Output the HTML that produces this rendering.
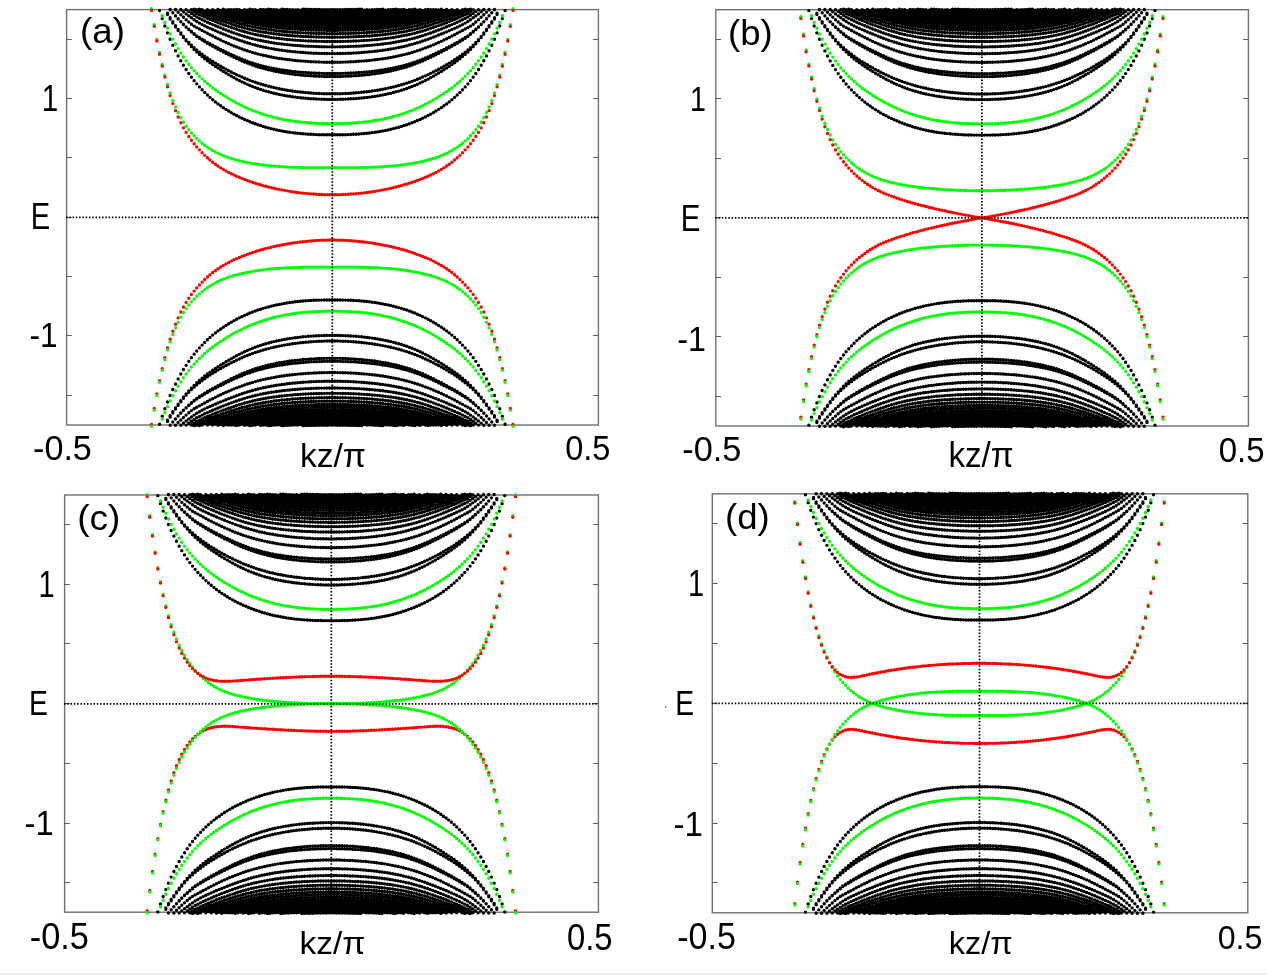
<!DOCTYPE html>
<html><head><meta charset="utf-8"><title>Band structure E vs kz</title><style>html,body{margin:0;padding:0;background:#fff}svg{display:block}</style></head><body>
<svg width="1267" height="975" viewBox="0 0 1267 975" style="display:block">
<defs>
<path id="bk" d="M0 -82.8h0M-2.7 -82.8h0M-5.3 -82.8h0M-8 -82.8h0M-10.6 -82.9h0M-13.3 -82.9h0M-16 -83h0M-18.6 -83.1h0M-21.3 -83.3h0M-23.9 -83.4h0M-26.6 -83.6h0M-29.3 -83.8h0M-31.9 -84.1h0M-34.6 -84.3h0M-37.2 -84.6h0M-39.9 -85h0M-42.6 -85.3h0M-45.2 -85.7h0M-47.9 -86.2h0M-50.5 -86.7h0M-53.2 -87.2h0M-55.9 -87.7h0M-58.5 -88.3h0M-61.2 -89h0M-63.8 -89.7h0M-66.5 -90.4h0M-69.2 -91.2h0M-71.8 -92.1h0M-74.5 -92.9h0M-77.1 -93.9h0M-79.8 -94.9h0M-82.5 -95.9h0M-85.1 -97.1h0M-87.8 -98.2h0M-90.4 -99.5h0M-93.1 -100.7h0M-95.8 -102.1h0M-98.4 -103.5h0M-101.1 -105h0M-103.7 -106.6h0M-106.4 -108.3h0M-109.1 -110h0M-111.7 -111.9h0M-114.4 -113.8h0M-117 -115.8h0M-119.7 -118h0M-122.4 -120.3h0M-125 -122.7h0M-127.7 -125.3h0M-130.3 -128h0M-133 -130.8h0M-135.7 -133.9h0M-138.3 -137.1h0M-141 -140.6h0M-143.6 -144.3h0M-146.3 -148.3h0M-149 -152.5h0M-151.6 -157h0M-154.3 -161.9h0M-156.9 -167h0M-159.6 -172.6h0M-162.3 -178.6h0M-164.9 -185h0M-167.6 -191.9h0M-170.2 -199.3h0M-172.9 -207.3h0M0 -118.3h0M-2.7 -118.3h0M-5.3 -118.3h0M-8 -118.4h0M-10.6 -118.5h0M-13.3 -118.6h0M-16 -118.7h0M-18.6 -118.9h0M-21.3 -119h0M-23.9 -119.2h0M-26.6 -119.5h0M-29.3 -119.7h0M-31.9 -120h0M-34.6 -120.3h0M-37.2 -120.6h0M-39.9 -121h0M-42.6 -121.4h0M-45.2 -121.8h0M-47.9 -122.3h0M-50.5 -122.8h0M-53.2 -123.3h0M-55.9 -123.9h0M-58.5 -124.5h0M-61.2 -125.2h0M-63.8 -125.9h0M-66.5 -126.6h0M-69.2 -127.4h0M-71.8 -128.3h0M-74.5 -129.2h0M-77.1 -130.2h0M-79.8 -131.2h0M-82.5 -132.3h0M-85.1 -133.4h0M-87.8 -134.7h0M-90.4 -135.9h0M-93.1 -137.3h0M-95.8 -138.6h0M-98.4 -140.1h0M-101.1 -141.6h0M-103.7 -143.1h0M-106.4 -144.7h0M-109.1 -146.3h0M-111.7 -148h0M-114.4 -149.7h0M-117 -151.4h0M-119.7 -153.2h0M-122.4 -155.1h0M-125 -157h0M-127.7 -159h0M-130.3 -161.2h0M-133 -163.4h0M-135.7 -165.8h0M-138.3 -168.4h0M-141 -171.2h0M-143.6 -174h0M-146.3 -177.1h0M-149 -180.3h0M-151.6 -183.7h0M-154.3 -187.3h0M-156.9 -191h0M-159.6 -194.9h0M-162.3 -198.9h0M-164.9 -203.4h0M0 -123.9h0M-2.7 -123.9h0M-5.3 -123.9h0M-8 -124h0M-10.6 -124.1h0M-13.3 -124.2h0M-16 -124.3h0M-18.6 -124.5h0M-21.3 -124.7h0M-23.9 -124.9h0M-26.6 -125.1h0M-29.3 -125.4h0M-31.9 -125.7h0M-34.6 -126h0M-37.2 -126.3h0M-39.9 -126.7h0M-42.6 -127.1h0M-45.2 -127.5h0M-47.9 -128h0M-50.5 -128.5h0M-53.2 -129h0M-55.9 -129.6h0M-58.5 -130.2h0M-61.2 -130.8h0M-63.8 -131.5h0M-66.5 -132.2h0M-69.2 -133h0M-71.8 -133.8h0M-74.5 -134.6h0M-77.1 -135.5h0M-79.8 -136.4h0M-82.5 -137.4h0M-85.1 -138.5h0M-87.8 -139.5h0M-90.4 -140.7h0M-93.1 -141.9h0M-95.8 -143.1h0M-98.4 -144.4h0M-101.1 -145.7h0M-103.7 -147.1h0M-106.4 -148.5h0M-109.1 -150h0M-111.7 -151.5h0M-114.4 -153.1h0M-117 -154.7h0M-119.7 -156.3h0M-122.4 -158h0M-125 -159.8h0M-127.7 -161.7h0M-130.3 -163.7h0M-133 -165.7h0M-135.7 -167.9h0M-138.3 -170.2h0M-141 -172.6h0M-143.6 -175.3h0M-146.3 -178.2h0M-149 -181.4h0M-151.6 -184.9h0M-154.3 -188.5h0M-156.9 -192.2h0M-159.6 -196.1h0M-162.3 -200.1h0M-164.9 -204.6h0M0 -141.3h0M-2.7 -141.3h0M-5.3 -141.3h0M-8 -141.3h0M-10.6 -141.4h0M-13.3 -141.5h0M-16 -141.6h0M-18.6 -141.8h0M-21.3 -141.9h0M-23.9 -142.1h0M-26.6 -142.3h0M-29.3 -142.5h0M-31.9 -142.8h0M-34.6 -143.1h0M-37.2 -143.3h0M-39.9 -143.7h0M-42.6 -144h0M-45.2 -144.4h0M-47.9 -144.8h0M-50.5 -145.3h0M-53.2 -145.7h0M-55.9 -146.2h0M-58.5 -146.8h0M-61.2 -147.4h0M-63.8 -148h0M-66.5 -148.7h0M-69.2 -149.4h0M-71.8 -150.1h0M-74.5 -150.9h0M-77.1 -151.8h0M-79.8 -152.7h0M-82.5 -153.7h0M-85.1 -154.7h0M-87.8 -155.7h0M-90.4 -156.8h0M-93.1 -158h0M-95.8 -159.2h0M-98.4 -160.5h0M-101.1 -161.8h0M-103.7 -163.1h0M-106.4 -164.4h0M-109.1 -165.8h0M-111.7 -167.2h0M-114.4 -168.6h0M-117 -170.1h0M-119.7 -171.5h0M-122.4 -173.1h0M-125 -174.6h0M-127.7 -176.2h0M-130.3 -177.9h0M-133 -179.6h0M-135.7 -181.4h0M-138.3 -183.5h0M-141 -185.8h0M-143.6 -188.2h0M-146.3 -190.7h0M-149 -193.3h0M-151.6 -196.1h0M-154.3 -199h0M-156.9 -202h0M-159.6 -205.1h0M-162.3 -208.4h0M0 -144.2h0M-2.7 -144.2h0M-5.3 -144.3h0M-8 -144.3h0M-10.6 -144.4h0M-13.3 -144.5h0M-16 -144.6h0M-18.6 -144.7h0M-21.3 -144.8h0M-23.9 -145h0M-26.6 -145.2h0M-29.3 -145.4h0M-31.9 -145.6h0M-34.6 -145.9h0M-37.2 -146.1h0M-39.9 -146.4h0M-42.6 -146.7h0M-45.2 -147.1h0M-47.9 -147.5h0M-50.5 -147.9h0M-53.2 -148.3h0M-55.9 -148.8h0M-58.5 -149.3h0M-61.2 -149.8h0M-63.8 -150.4h0M-66.5 -151h0M-69.2 -151.7h0M-71.8 -152.4h0M-74.5 -153.1h0M-77.1 -153.9h0M-79.8 -154.8h0M-82.5 -155.7h0M-85.1 -156.6h0M-87.8 -157.6h0M-90.4 -158.7h0M-93.1 -159.8h0M-95.8 -160.9h0M-98.4 -162.1h0M-101.1 -163.3h0M-103.7 -164.6h0M-106.4 -165.9h0M-109.1 -167.2h0M-111.7 -168.5h0M-114.4 -169.8h0M-117 -171.2h0M-119.7 -172.6h0M-122.4 -174.1h0M-125 -175.5h0M-127.7 -177.1h0M-130.3 -178.7h0M-133 -180.3h0M-135.7 -182h0M-138.3 -184.1h0M-141 -186.3h0M-143.6 -188.6h0M-146.3 -191h0M-149 -193.6h0M-151.6 -196.3h0M-154.3 -199.1h0M-156.9 -202.1h0M-159.6 -205.1h0M-162.3 -208.3h0M0 -155.5h0M-2.7 -155.5h0M-5.3 -155.6h0M-8 -155.6h0M-10.6 -155.7h0M-13.3 -155.8h0M-16 -155.9h0M-18.6 -156h0M-21.3 -156.1h0M-23.9 -156.3h0M-26.6 -156.5h0M-29.3 -156.7h0M-31.9 -156.9h0M-34.6 -157.1h0M-37.2 -157.4h0M-39.9 -157.7h0M-42.6 -158h0M-45.2 -158.3h0M-47.9 -158.7h0M-50.5 -159h0M-53.2 -159.4h0M-55.9 -159.9h0M-58.5 -160.4h0M-61.2 -160.9h0M-63.8 -161.4h0M-66.5 -162h0M-69.2 -162.6h0M-71.8 -163.2h0M-74.5 -163.9h0M-77.1 -164.6h0M-79.8 -165.4h0M-82.5 -166.2h0M-85.1 -167h0M-87.8 -167.9h0M-90.4 -168.9h0M-93.1 -169.9h0M-95.8 -170.9h0M-98.4 -171.9h0M-101.1 -173h0M-103.7 -174.2h0M-106.4 -175.3h0M-109.1 -176.5h0M-111.7 -177.8h0M-114.4 -179.1h0M-117 -180.4h0M-119.7 -181.8h0M-122.4 -183.1h0M-125 -184.6h0M-127.7 -186h0M-130.3 -187.4h0M-133 -188.9h0M-135.7 -190.3h0M-138.3 -191.8h0M-141 -193.7h0M-143.6 -195.9h0M-146.3 -198.2h0M-149 -200.6h0M-151.6 -203.1h0M-154.3 -205.6h0M-156.9 -208.4h0M0 -164.2h0M-2.7 -164.2h0M-5.3 -164.3h0M-8 -164.3h0M-10.6 -164.4h0M-13.3 -164.4h0M-16 -164.5h0M-18.6 -164.6h0M-21.3 -164.8h0M-23.9 -164.9h0M-26.6 -165.1h0M-29.3 -165.3h0M-31.9 -165.5h0M-34.6 -165.7h0M-37.2 -166h0M-39.9 -166.2h0M-42.6 -166.5h0M-45.2 -166.8h0M-47.9 -167.2h0M-50.5 -167.5h0M-53.2 -167.9h0M-55.9 -168.3h0M-58.5 -168.8h0M-61.2 -169.2h0M-63.8 -169.7h0M-66.5 -170.3h0M-69.2 -170.8h0M-71.8 -171.4h0M-74.5 -172.1h0M-77.1 -172.8h0M-79.8 -173.5h0M-82.5 -174.3h0M-85.1 -175.1h0M-87.8 -175.9h0M-90.4 -176.8h0M-93.1 -177.7h0M-95.8 -178.7h0M-98.4 -179.7h0M-101.1 -180.7h0M-103.7 -181.7h0M-106.4 -182.8h0M-109.1 -183.9h0M-111.7 -184.9h0M-114.4 -186h0M-117 -187.2h0M-119.7 -188.3h0M-122.4 -189.5h0M-125 -190.7h0M-127.7 -192h0M-130.3 -193.3h0M-133 -194.8h0M-135.7 -196.4h0M-138.3 -198.2h0M-141 -200.1h0M-143.6 -202h0M-146.3 -204h0M-149 -206.2h0M-151.6 -208.4h0M0 -171h0M-2.7 -171h0M-5.3 -171h0M-8 -171.1h0M-10.6 -171.1h0M-13.3 -171.2h0M-16 -171.3h0M-18.6 -171.4h0M-21.3 -171.5h0M-23.9 -171.6h0M-26.6 -171.7h0M-29.3 -171.9h0M-31.9 -172.1h0M-34.6 -172.3h0M-37.2 -172.5h0M-39.9 -172.7h0M-42.6 -173h0M-45.2 -173.2h0M-47.9 -173.5h0M-50.5 -173.8h0M-53.2 -174.2h0M-55.9 -174.5h0M-58.5 -174.9h0M-61.2 -175.3h0M-63.8 -175.8h0M-66.5 -176.3h0M-69.2 -176.8h0M-71.8 -177.3h0M-74.5 -177.9h0M-77.1 -178.5h0M-79.8 -179.2h0M-82.5 -179.9h0M-85.1 -180.6h0M-87.8 -181.4h0M-90.4 -182.2h0M-93.1 -183.1h0M-95.8 -184h0M-98.4 -184.9h0M-101.1 -185.9h0M-103.7 -186.9h0M-106.4 -187.9h0M-109.1 -188.9h0M-111.7 -190h0M-114.4 -191.1h0M-117 -192.2h0M-119.7 -193.3h0M-122.4 -194.5h0M-125 -195.7h0M-127.7 -196.9h0M-130.3 -198.2h0M-133 -199.5h0M-135.7 -200.9h0M-138.3 -202.6h0M-141 -204.4h0M-143.6 -206.3h0M-146.3 -208.2h0M0 -176.4h0M-2.7 -176.4h0M-5.3 -176.4h0M-8 -176.4h0M-10.6 -176.5h0M-13.3 -176.5h0M-16 -176.6h0M-18.6 -176.7h0M-21.3 -176.8h0M-23.9 -176.9h0M-26.6 -177h0M-29.3 -177.2h0M-31.9 -177.4h0M-34.6 -177.5h0M-37.2 -177.7h0M-39.9 -178h0M-42.6 -178.2h0M-45.2 -178.4h0M-47.9 -178.7h0M-50.5 -179h0M-53.2 -179.3h0M-55.9 -179.7h0M-58.5 -180h0M-61.2 -180.4h0M-63.8 -180.8h0M-66.5 -181.3h0M-69.2 -181.8h0M-71.8 -182.3h0M-74.5 -182.8h0M-77.1 -183.4h0M-79.8 -184h0M-82.5 -184.7h0M-85.1 -185.4h0M-87.8 -186.1h0M-90.4 -186.9h0M-93.1 -187.7h0M-95.8 -188.6h0M-98.4 -189.5h0M-101.1 -190.4h0M-103.7 -191.3h0M-106.4 -192.3h0M-109.1 -193.2h0M-111.7 -194.2h0M-114.4 -195.2h0M-117 -196.3h0M-119.7 -197.4h0M-122.4 -198.5h0M-125 -199.6h0M-127.7 -200.8h0M-130.3 -202h0M-133 -203.2h0M-135.7 -204.5h0M-138.3 -206.1h0M-141 -207.9h0M0 -180.6h0M-2.7 -180.6h0M-5.3 -180.7h0M-8 -180.7h0M-10.6 -180.7h0M-13.3 -180.8h0M-16 -180.9h0M-18.6 -181h0M-21.3 -181.1h0M-23.9 -181.2h0M-26.6 -181.3h0M-29.3 -181.4h0M-31.9 -181.6h0M-34.6 -181.8h0M-37.2 -181.9h0M-39.9 -182.1h0M-42.6 -182.4h0M-45.2 -182.6h0M-47.9 -182.9h0M-50.5 -183.1h0M-53.2 -183.4h0M-55.9 -183.8h0M-58.5 -184.1h0M-61.2 -184.5h0M-63.8 -184.9h0M-66.5 -185.3h0M-69.2 -185.7h0M-71.8 -186.2h0M-74.5 -186.7h0M-77.1 -187.3h0M-79.8 -187.9h0M-82.5 -188.5h0M-85.1 -189.2h0M-87.8 -189.9h0M-90.4 -190.6h0M-93.1 -191.4h0M-95.8 -192.2h0M-98.4 -193h0M-101.1 -193.9h0M-103.7 -194.8h0M-106.4 -195.7h0M-109.1 -196.6h0M-111.7 -197.5h0M-114.4 -198.5h0M-117 -199.5h0M-119.7 -200.5h0M-122.4 -201.6h0M-125 -202.6h0M-127.7 -203.7h0M-130.3 -204.9h0M-133 -206.1h0M-135.7 -207.3h0M-138.3 -208.8h0M0 -184.2h0M-2.7 -184.2h0M-5.3 -184.2h0M-8 -184.3h0M-10.6 -184.3h0M-13.3 -184.4h0M-16 -184.4h0M-18.6 -184.5h0M-21.3 -184.6h0M-23.9 -184.7h0M-26.6 -184.8h0M-29.3 -185h0M-31.9 -185.1h0M-34.6 -185.3h0M-37.2 -185.5h0M-39.9 -185.6h0M-42.6 -185.9h0M-45.2 -186.1h0M-47.9 -186.3h0M-50.5 -186.6h0M-53.2 -186.9h0M-55.9 -187.2h0M-58.5 -187.5h0M-61.2 -187.9h0M-63.8 -188.3h0M-66.5 -188.7h0M-69.2 -189.1h0M-71.8 -189.6h0M-74.5 -190.1h0M-77.1 -190.6h0M-79.8 -191.2h0M-82.5 -191.8h0M-85.1 -192.4h0M-87.8 -193.1h0M-90.4 -193.8h0M-93.1 -194.5h0M-95.8 -195.3h0M-98.4 -196.1h0M-101.1 -196.9h0M-103.7 -197.8h0M-106.4 -198.6h0M-109.1 -199.5h0M-111.7 -200.4h0M-114.4 -201.3h0M-117 -202.3h0M-119.7 -203.3h0M-122.4 -204.3h0M-125 -205.3h0M-127.7 -206.4h0M-130.3 -207.5h0M-133 -208.7h0M0 -187.4h0M-2.7 -187.4h0M-5.3 -187.4h0M-8 -187.5h0M-10.6 -187.5h0M-13.3 -187.6h0M-16 -187.6h0M-18.6 -187.7h0M-21.3 -187.8h0M-23.9 -187.9h0M-26.6 -188h0M-29.3 -188.2h0M-31.9 -188.3h0M-34.6 -188.5h0M-37.2 -188.6h0M-39.9 -188.8h0M-42.6 -189h0M-45.2 -189.2h0M-47.9 -189.5h0M-50.5 -189.7h0M-53.2 -190h0M-55.9 -190.3h0M-58.5 -190.6h0M-61.2 -191h0M-63.8 -191.3h0M-66.5 -191.7h0M-69.2 -192.2h0M-71.8 -192.6h0M-74.5 -193.1h0M-77.1 -193.6h0M-79.8 -194.2h0M-82.5 -194.8h0M-85.1 -195.4h0M-87.8 -196h0M-90.4 -196.7h0M-93.1 -197.4h0M-95.8 -198.2h0M-98.4 -199h0M-101.1 -199.8h0M-103.7 -200.6h0M-106.4 -201.4h0M-109.1 -202.3h0M-111.7 -203.2h0M-114.4 -204.1h0M-117 -205h0M-119.7 -206h0M-122.4 -206.9h0M-125 -208h0M0 -189.9h0M-2.7 -189.9h0M-5.3 -189.9h0M-8 -190h0M-10.6 -190h0M-13.3 -190.1h0M-16 -190.1h0M-18.6 -190.2h0M-21.3 -190.3h0M-23.9 -190.4h0M-26.6 -190.5h0M-29.3 -190.6h0M-31.9 -190.8h0M-34.6 -190.9h0M-37.2 -191.1h0M-39.9 -191.3h0M-42.6 -191.5h0M-45.2 -191.7h0M-47.9 -191.9h0M-50.5 -192.2h0M-53.2 -192.5h0M-55.9 -192.7h0M-58.5 -193.1h0M-61.2 -193.4h0M-63.8 -193.7h0M-66.5 -194.1h0M-69.2 -194.5h0M-71.8 -195h0M-74.5 -195.5h0M-77.1 -196h0M-79.8 -196.5h0M-82.5 -197.1h0M-85.1 -197.7h0M-87.8 -198.3h0M-90.4 -199h0M-93.1 -199.7h0M-95.8 -200.4h0M-98.4 -201.2h0M-101.1 -202h0M-103.7 -202.8h0M-106.4 -203.6h0M-109.1 -204.4h0M-111.7 -205.3h0M-114.4 -206.2h0M-117 -207.1h0M-119.7 -208h0M0 -192.5h0M-2.7 -192.5h0M-5.3 -192.6h0M-8 -192.6h0M-10.6 -192.6h0M-13.3 -192.7h0M-16 -192.7h0M-18.6 -192.8h0M-21.3 -192.9h0M-23.9 -193h0M-26.6 -193.1h0M-29.3 -193.2h0M-31.9 -193.4h0M-34.6 -193.5h0M-37.2 -193.7h0M-39.9 -193.9h0M-42.6 -194.1h0M-45.2 -194.3h0M-47.9 -194.5h0M-50.5 -194.7h0M-53.2 -195h0M-55.9 -195.3h0M-58.5 -195.6h0M-61.2 -195.9h0M-63.8 -196.3h0M-66.5 -196.6h0M-69.2 -197h0M-71.8 -197.5h0M-74.5 -197.9h0M-77.1 -198.4h0M-79.8 -198.9h0M-82.5 -199.5h0M-85.1 -200.1h0M-87.8 -200.7h0M-90.4 -201.4h0M-93.1 -202h0M-95.8 -202.8h0M-98.4 -203.5h0M-101.1 -204.3h0M-103.7 -205.1h0M-106.4 -205.9h0M-109.1 -206.7h0M-111.7 -207.5h0M-114.4 -208.4h0M0 -194.9h0M-2.7 -194.9h0M-5.3 -194.9h0M-8 -195h0M-10.6 -195h0M-13.3 -195.1h0M-16 -195.1h0M-18.6 -195.2h0M-21.3 -195.3h0M-23.9 -195.4h0M-26.6 -195.5h0M-29.3 -195.6h0M-31.9 -195.7h0M-34.6 -195.9h0M-37.2 -196h0M-39.9 -196.2h0M-42.6 -196.4h0M-45.2 -196.6h0M-47.9 -196.8h0M-50.5 -197.1h0M-53.2 -197.3h0M-55.9 -197.6h0M-58.5 -197.9h0M-61.2 -198.2h0M-63.8 -198.5h0M-66.5 -198.9h0M-69.2 -199.3h0M-71.8 -199.7h0M-74.5 -200.2h0M-77.1 -200.6h0M-79.8 -201.2h0M-82.5 -201.7h0M-85.1 -202.3h0M-87.8 -202.9h0M-90.4 -203.5h0M-93.1 -204.2h0M-95.8 -204.9h0M-98.4 -205.6h0M-101.1 -206.3h0M-103.7 -207.1h0M-106.4 -207.9h0M-109.1 -208.7h0M0 -197.1h0M-2.7 -197.1h0M-5.3 -197.1h0M-8 -197.2h0M-10.6 -197.2h0M-13.3 -197.2h0M-16 -197.3h0M-18.6 -197.4h0M-21.3 -197.5h0M-23.9 -197.5h0M-26.6 -197.7h0M-29.3 -197.8h0M-31.9 -197.9h0M-34.6 -198h0M-37.2 -198.2h0M-39.9 -198.4h0M-42.6 -198.5h0M-45.2 -198.7h0M-47.9 -199h0M-50.5 -199.2h0M-53.2 -199.4h0M-55.9 -199.7h0M-58.5 -200h0M-61.2 -200.3h0M-63.8 -200.6h0M-66.5 -201h0M-69.2 -201.4h0M-71.8 -201.8h0M-74.5 -202.2h0M-77.1 -202.7h0M-79.8 -203.2h0M-82.5 -203.7h0M-85.1 -204.3h0M-87.8 -204.9h0M-90.4 -205.5h0M-93.1 -206.1h0M-95.8 -206.8h0M-98.4 -207.5h0M-101.1 -208.2h0M0 -199.1h0M-2.7 -199.1h0M-5.3 -199.1h0M-8 -199.2h0M-10.6 -199.2h0M-13.3 -199.3h0M-16 -199.3h0M-18.6 -199.4h0M-21.3 -199.5h0M-23.9 -199.5h0M-26.6 -199.7h0M-29.3 -199.8h0M-31.9 -199.9h0M-34.6 -200h0M-37.2 -200.2h0M-39.9 -200.3h0M-42.6 -200.5h0M-45.2 -200.7h0M-47.9 -200.9h0M-50.5 -201.2h0M-53.2 -201.4h0M-55.9 -201.7h0M-58.5 -201.9h0M-61.2 -202.2h0M-63.8 -202.6h0M-66.5 -202.9h0M-69.2 -203.3h0M-71.8 -203.7h0M-74.5 -204.1h0M-77.1 -204.6h0M-79.8 -205h0M-82.5 -205.6h0M-85.1 -206.1h0M-87.8 -206.7h0M-90.4 -207.3h0M-93.1 -207.9h0M-95.8 -208.6h0M0 -201h0M-2.7 -201h0M-5.3 -201h0M-8 -201h0M-10.6 -201.1h0M-13.3 -201.1h0M-16 -201.2h0M-18.6 -201.2h0M-21.3 -201.3h0M-23.9 -201.4h0M-26.6 -201.5h0M-29.3 -201.6h0M-31.9 -201.7h0M-34.6 -201.9h0M-37.2 -202h0M-39.9 -202.2h0M-42.6 -202.3h0M-45.2 -202.5h0M-47.9 -202.7h0M-50.5 -203h0M-53.2 -203.2h0M-55.9 -203.4h0M-58.5 -203.7h0M-61.2 -204h0M-63.8 -204.3h0M-66.5 -204.7h0M-69.2 -205h0M-71.8 -205.4h0M-74.5 -205.8h0M-77.1 -206.3h0M-79.8 -206.7h0M-82.5 -207.2h0M-85.1 -207.8h0M-87.8 -208.3h0M0 -202.7h0M-2.7 -202.7h0M-5.3 -202.7h0M-8 -202.7h0M-10.6 -202.8h0M-13.3 -202.8h0M-16 -202.9h0M-18.6 -202.9h0M-21.3 -203h0M-23.9 -203.1h0M-26.6 -203.2h0M-29.3 -203.3h0M-31.9 -203.4h0M-34.6 -203.5h0M-37.2 -203.7h0M-39.9 -203.8h0M-42.6 -204h0M-45.2 -204.2h0M-47.9 -204.4h0M-50.5 -204.6h0M-53.2 -204.8h0M-55.9 -205.1h0M-58.5 -205.4h0M-61.2 -205.6h0M-63.8 -206h0M-66.5 -206.3h0M-69.2 -206.6h0M-71.8 -207h0M-74.5 -207.4h0M-77.1 -207.9h0M-79.8 -208.3h0M-82.5 -208.8h0M0 -204.3h0M-2.7 -204.3h0M-5.3 -204.3h0M-8 -204.3h0M-10.6 -204.3h0M-13.3 -204.4h0M-16 -204.4h0M-18.6 -204.5h0M-21.3 -204.6h0M-23.9 -204.6h0M-26.6 -204.7h0M-29.3 -204.8h0M-31.9 -205h0M-34.6 -205.1h0M-37.2 -205.2h0M-39.9 -205.4h0M-42.6 -205.6h0M-45.2 -205.7h0M-47.9 -205.9h0M-50.5 -206.1h0M-53.2 -206.4h0M-55.9 -206.6h0M-58.5 -206.9h0M-61.2 -207.1h0M-63.8 -207.4h0M-66.5 -207.8h0M-69.2 -208.1h0M-71.8 -208.5h0M0 -205.7h0M-2.7 -205.7h0M-5.3 -205.7h0M-8 -205.7h0M-10.6 -205.8h0M-13.3 -205.8h0M-16 -205.9h0M-18.6 -205.9h0M-21.3 -206h0M-23.9 -206.1h0M-26.6 -206.2h0M-29.3 -206.3h0M-31.9 -206.4h0M-34.6 -206.5h0M-37.2 -206.7h0M-39.9 -206.8h0M-42.6 -207h0M-45.2 -207.1h0M-47.9 -207.3h0M-50.5 -207.5h0M-53.2 -207.8h0M-55.9 -208h0M-58.5 -208.2h0M-61.2 -208.5h0M-63.8 -208.8h0M0 -207h0M-2.7 -207h0M-5.3 -207h0M-8 -207.1h0M-10.6 -207.1h0M-13.3 -207.1h0M-16 -207.2h0M-18.6 -207.2h0M-21.3 -207.3h0M-23.9 -207.4h0M-26.6 -207.5h0M-29.3 -207.6h0M-31.9 -207.7h0M-34.6 -207.8h0M-37.2 -208h0M-39.9 -208.1h0M-42.6 -208.3h0M-45.2 -208.4h0M-47.9 -208.6h0M-50.5 -208.8h0M0 -208.2h0M-2.7 -208.2h0M-5.3 -208.3h0M-8 -208.3h0M-10.6 -208.3h0M-13.3 -208.4h0M-16 -208.4h0M-18.6 -208.5h0M-21.3 -208.5h0M-23.9 -208.6h0M-26.6 -208.7h0M-29.3 -208.8h0M-162.3 -208.2h0M-156.9 -208.2h0M-151.6 -208.2h0M-146.3 -208.2h0M-141 -208.2h0M-135.7 -208.2h0M-130.3 -208.2h0M-125 -208.2h0M-119.7 -208.2h0M-114.4 -208.2h0M-109.1 -208.2h0M-103.7 -208.2h0M-98.4 -208.2h0M-93.1 -208.2h0M-87.8 -208.2h0M-82.5 -208.2h0M-77.1 -208.2h0M-71.8 -208.2h0M-66.5 -208.2h0M-61.2 -208.2h0M-55.9 -208.2h0M-50.5 -208.2h0M-45.2 -208.2h0M-39.9 -208.2h0M-34.6 -208.2h0M-29.3 -208.2h0M-23.9 -208.2h0M-18.6 -208.2h0M-13.3 -208.2h0M-8 -208.2h0M-2.7 -208.2h0"/>
<path id="g2" d="M0 -94h0M-2.7 -94h0M-5.3 -94.1h0M-8 -94.1h0M-10.6 -94.2h0M-13.3 -94.3h0M-16 -94.4h0M-18.6 -94.5h0M-21.3 -94.7h0M-23.9 -94.9h0M-26.6 -95.1h0M-29.3 -95.3h0M-31.9 -95.6h0M-34.6 -95.9h0M-37.2 -96.3h0M-39.9 -96.6h0M-42.6 -97.1h0M-45.2 -97.5h0M-47.9 -98h0M-50.5 -98.5h0M-53.2 -99.1h0M-55.9 -99.7h0M-58.5 -100.4h0M-61.2 -101.1h0M-63.8 -101.8h0M-66.5 -102.6h0M-69.2 -103.5h0M-71.8 -104.3h0M-74.5 -105.3h0M-77.1 -106.3h0M-79.8 -107.3h0M-82.5 -108.4h0M-85.1 -109.6h0M-87.8 -110.8h0M-90.4 -112.1h0M-93.1 -113.4h0M-95.8 -114.8h0M-98.4 -116.2h0M-101.1 -117.7h0M-103.7 -119.3h0M-106.4 -120.9h0M-109.1 -122.6h0M-111.7 -124.3h0M-114.4 -126.1h0M-117 -128h0M-119.7 -129.9h0M-122.4 -132h0M-125 -134.2h0M-127.7 -136.5h0M-130.3 -138.9h0M-133 -141.4h0M-135.7 -144.2h0M-138.3 -147.1h0M-141 -150.1h0M-143.6 -153.5h0M-146.3 -157h0M-149 -160.8h0M-151.6 -164.8h0M-154.3 -169.2h0M-156.9 -173.8h0M-159.6 -178.7h0M-162.3 -184h0M-164.9 -189.7h0M-167.6 -195.7h0M-170.2 -202.1h0"/>
<path id="ra" d="M0 -22.7h0M-2.7 -22.7h0M-5.3 -22.8h0M-8 -22.8h0M-10.6 -22.9h0M-13.3 -23h0M-16 -23.2h0M-18.6 -23.4h0M-21.3 -23.6h0M-23.9 -23.8h0M-26.6 -24.1h0M-29.3 -24.3h0M-31.9 -24.6h0M-34.6 -25h0M-37.2 -25.3h0M-39.9 -25.7h0M-42.6 -26.1h0M-45.2 -26.6h0M-47.9 -27.1h0M-50.5 -27.6h0M-53.2 -28.1h0M-55.9 -28.6h0M-58.5 -29.2h0M-61.2 -29.9h0M-63.8 -30.5h0M-66.5 -31.2h0M-69.2 -31.9h0M-71.8 -32.7h0M-74.5 -33.5h0M-77.1 -34.3h0M-79.8 -35.2h0M-82.5 -36.1h0M-85.1 -37.1h0M-87.8 -38.1h0M-90.4 -39.1h0M-93.1 -40.2h0M-95.8 -41.3h0M-98.4 -42.5h0M-101.1 -43.8h0M-103.7 -45.1h0M-106.4 -46.6h0M-109.1 -48.1h0M-111.7 -49.7h0M-114.4 -51.5h0M-117 -53.3h0M-119.7 -55.3h0M-122.4 -57.5h0M-125 -59.8h0M-127.7 -62.2h0M-130.3 -64.9h0M-133 -67.7h0M-135.7 -70.7h0M-138.3 -73.9h0M-141 -77.3h0M-143.6 -81.1h0M-146.3 -85.2h0M-149 -89.8h0M-151.6 -94.9h0M-154.3 -100.7h0M-156.9 -107h0M-159.6 -114.1h0M-162.3 -122.1h0M-164.9 -130.9h0M-167.6 -140.7h0M-170.2 -151.6h0M-172.9 -163.6h0M-175.6 -176.9h0M-178.2 -191.5h0M-180.9 -207.5h0"/>
<path id="ga" d="M0 -49.9h0M-2.7 -49.9h0M-5.3 -49.9h0M-8 -49.9h0M-10.6 -49.9h0M-13.3 -49.9h0M-16 -49.9h0M-18.6 -49.9h0M-21.3 -49.9h0M-23.9 -49.9h0M-26.6 -49.9h0M-29.3 -50h0M-31.9 -50h0M-34.6 -50.1h0M-37.2 -50.2h0M-39.9 -50.3h0M-42.6 -50.4h0M-45.2 -50.5h0M-47.9 -50.6h0M-50.5 -50.8h0M-53.2 -51h0M-55.9 -51.2h0M-58.5 -51.4h0M-61.2 -51.6h0M-63.8 -51.9h0M-66.5 -52.2h0M-69.2 -52.5h0M-71.8 -52.9h0M-74.5 -53.3h0M-77.1 -53.7h0M-79.8 -54.1h0M-82.5 -54.6h0M-85.1 -55.1h0M-87.8 -55.7h0M-90.4 -56.3h0M-93.1 -56.9h0M-95.8 -57.6h0M-98.4 -58.3h0M-101.1 -59.1h0M-103.7 -59.9h0M-106.4 -60.9h0M-109.1 -61.9h0M-111.7 -63h0M-114.4 -64.2h0M-117 -65.6h0M-119.7 -67.1h0M-122.4 -68.7h0M-125 -70.5h0M-127.7 -72.4h0M-130.3 -74.4h0M-133 -76.7h0M-135.7 -79.1h0M-138.3 -81.8h0M-141 -84.6h0M-143.6 -87.8h0M-146.3 -91.4h0M-149 -95.4h0M-151.6 -100h0M-154.3 -105.2h0M-156.9 -110.8h0M-159.6 -117.3h0M-162.3 -124.7h0M-164.9 -133h0M-167.6 -142.6h0M-170.2 -153.3h0M-172.9 -165.3h0M-175.6 -178.5h0M-178.2 -193.2h0M-180.9 -209.3h0"/>
<g id="ua"><use href="#bk" stroke="#000"/><use href="#g2" stroke="#0f0"/><use href="#ga" stroke="#0f0"/><use href="#ra" stroke="#f00"/></g>
<g id="la"><use href="#bk" stroke="#000"/><use href="#g2" stroke="#0f0"/><use href="#ra" stroke="#f00"/><use href="#ga" stroke="#0f0"/></g>
<path id="rb" d="M0 0h0M-2.7 -.4h0M-5.3 -.8h0M-8 -1.3h0M-10.6 -1.8h0M-13.3 -2.3h0M-16 -2.8h0M-18.6 -3.3h0M-21.3 -3.8h0M-23.9 -4.3h0M-26.6 -4.8h0M-29.3 -5.4h0M-31.9 -5.9h0M-34.6 -6.5h0M-37.2 -7.1h0M-39.9 -7.6h0M-42.6 -8.2h0M-45.2 -8.8h0M-47.9 -9.5h0M-50.5 -10.1h0M-53.2 -10.7h0M-55.9 -11.4h0M-58.5 -12.1h0M-61.2 -12.7h0M-63.8 -13.5h0M-66.5 -14.2h0M-69.2 -14.9h0M-71.8 -15.7h0M-74.5 -16.5h0M-77.1 -17.3h0M-79.8 -18.2h0M-82.5 -19h0M-85.1 -19.9h0M-87.8 -20.9h0M-90.4 -21.8h0M-93.1 -22.8h0M-95.8 -23.8h0M-98.4 -24.9h0M-101.1 -26.1h0M-103.7 -27.4h0M-106.4 -28.8h0M-109.1 -30.3h0M-111.7 -31.9h0M-114.4 -33.6h0M-117 -35.5h0M-119.7 -37.5h0M-122.4 -39.6h0M-125 -41.9h0M-127.7 -44.3h0M-130.3 -47h0M-133 -49.8h0M-135.7 -52.9h0M-138.3 -56.2h0M-141 -59.8h0M-143.6 -63.7h0M-146.3 -68h0M-149 -72.9h0M-151.6 -78.3h0M-154.3 -84.4h0M-156.9 -91.2h0M-159.6 -98.8h0M-162.3 -107.3h0M-164.9 -116.7h0M-167.6 -127.2h0M-170.2 -138.9h0M-172.9 -151.9h0M-175.6 -166.2h0M-178.2 -182h0M-180.9 -199.4h0"/>
<path id="gb" d="M0 -27.2h0M-2.7 -27.2h0M-5.3 -27.2h0M-8 -27.2h0M-10.6 -27.3h0M-13.3 -27.3h0M-16 -27.4h0M-18.6 -27.5h0M-21.3 -27.5h0M-23.9 -27.6h0M-26.6 -27.8h0M-29.3 -27.9h0M-31.9 -28h0M-34.6 -28.2h0M-37.2 -28.3h0M-39.9 -28.5h0M-42.6 -28.7h0M-45.2 -28.9h0M-47.9 -29.1h0M-50.5 -29.3h0M-53.2 -29.6h0M-55.9 -29.8h0M-58.5 -30.1h0M-61.2 -30.4h0M-63.8 -30.7h0M-66.5 -31.1h0M-69.2 -31.5h0M-71.8 -31.9h0M-74.5 -32.3h0M-77.1 -32.7h0M-79.8 -33.2h0M-82.5 -33.7h0M-85.1 -34.3h0M-87.8 -34.9h0M-90.4 -35.5h0M-93.1 -36.2h0M-95.8 -36.9h0M-98.4 -37.7h0M-101.1 -38.5h0M-103.7 -39.4h0M-106.4 -40.5h0M-109.1 -41.6h0M-111.7 -42.8h0M-114.4 -44.1h0M-117 -45.6h0M-119.7 -47.1h0M-122.4 -48.9h0M-125 -50.8h0M-127.7 -52.9h0M-130.3 -55.1h0M-133 -57.6h0M-135.7 -60.2h0M-138.3 -63.1h0M-141 -66.2h0M-143.6 -69.6h0M-146.3 -73.5h0M-149 -77.9h0M-151.6 -82.9h0M-154.3 -88.5h0M-156.9 -94.7h0M-159.6 -101.7h0M-162.3 -109.7h0M-164.9 -118.8h0M-167.6 -129.2h0M-170.2 -140.7h0M-172.9 -153.6h0M-175.6 -167.9h0M-178.2 -183.7h0M-180.9 -201.1h0"/>
<g id="ub"><use href="#bk" stroke="#000"/><use href="#g2" stroke="#0f0"/><use href="#gb" stroke="#0f0"/><use href="#rb" stroke="#f00"/></g>
<g id="lb"><use href="#bk" stroke="#000"/><use href="#g2" stroke="#0f0"/><use href="#rb" stroke="#f00"/><use href="#gb" stroke="#0f0"/></g>
<path id="rc" d="M0 -27.5h0M-2.7 -27.5h0M-5.3 -27.4h0M-8 -27.4h0M-10.6 -27.4h0M-13.3 -27.3h0M-16 -27.3h0M-18.6 -27.2h0M-21.3 -27.1h0M-23.9 -27.1h0M-26.6 -27h0M-29.3 -26.9h0M-31.9 -26.8h0M-34.6 -26.7h0M-37.2 -26.6h0M-39.9 -26.4h0M-42.6 -26.3h0M-45.2 -26.2h0M-47.9 -26h0M-50.5 -25.9h0M-53.2 -25.7h0M-55.9 -25.6h0M-58.5 -25.4h0M-61.2 -25.3h0M-63.8 -25.1h0M-66.5 -24.9h0M-69.2 -24.7h0M-71.8 -24.5h0M-74.5 -24.4h0M-77.1 -24.2h0M-79.8 -24h0M-82.5 -23.8h0M-85.1 -23.6h0M-87.8 -23.4h0M-90.4 -23.2h0M-93.1 -23h0M-95.8 -22.8h0M-98.4 -22.6h0M-101.1 -22.5h0M-103.7 -22.4h0M-106.4 -22.4h0M-109.1 -22.4h0M-111.7 -22.6h0M-114.4 -22.9h0M-117 -23.3h0M-119.7 -23.9h0M-122.4 -24.6h0M-125 -25.6h0M-127.7 -26.9h0M-130.3 -28.4h0M-133 -30.3h0M-135.7 -32.5h0M-138.3 -35h0M-141 -38h0M-143.6 -41.5h0M-146.3 -45.5h0M-149 -50.2h0M-151.6 -55.5h0M-154.3 -61.7h0M-156.9 -68.7h0M-159.6 -76.8h0M-162.3 -85.8h0M-164.9 -96h0M-167.6 -107.5h0M-170.2 -120.2h0M-172.9 -134.3h0M-175.6 -149.9h0M-178.2 -167h0M-180.9 -185.8h0M-183.5 -206.3h0"/>
<path id="gc" d="M0 0h0M-2.7 0h0M-5.3 0h0M-8 0h0M-10.6 0h0M-13.3 0h0M-16 -.1h0M-18.6 -.2h0M-21.3 -.2h0M-23.9 -.3h0M-26.6 -.4h0M-29.3 -.5h0M-31.9 -.7h0M-34.6 -.8h0M-37.2 -.9h0M-39.9 -1.1h0M-42.6 -1.3h0M-45.2 -1.4h0M-47.9 -1.6h0M-50.5 -1.8h0M-53.2 -2.1h0M-55.9 -2.3h0M-58.5 -2.5h0M-61.2 -2.8h0M-63.8 -3.1h0M-66.5 -3.4h0M-69.2 -3.7h0M-71.8 -4.1h0M-74.5 -4.5h0M-77.1 -4.9h0M-79.8 -5.4h0M-82.5 -5.8h0M-85.1 -6.4h0M-87.8 -6.9h0M-90.4 -7.5h0M-93.1 -8.2h0M-95.8 -8.8h0M-98.4 -9.6h0M-101.1 -10.4h0M-103.7 -11.3h0M-106.4 -12.3h0M-109.1 -13.4h0M-111.7 -14.6h0M-114.4 -16h0M-117 -17.5h0M-119.7 -19.2h0M-122.4 -21h0M-125 -23.1h0M-127.7 -25.3h0M-130.3 -27.8h0M-133 -30.5h0M-135.7 -33.5h0M-138.3 -36.7h0M-141 -40.2h0M-143.6 -44h0M-146.3 -48.3h0M-149 -53h0M-151.6 -58.4h0M-154.3 -64.5h0M-156.9 -71.2h0M-159.6 -78.8h0M-162.3 -87.6h0M-164.9 -97.5h0M-167.6 -108.8h0M-170.2 -121.5h0M-172.9 -135.5h0M-175.6 -151.1h0M-178.2 -168.4h0M-180.9 -187.3h0M-183.5 -208h0"/>
<g id="uc"><use href="#bk" stroke="#000"/><use href="#g2" stroke="#0f0"/><use href="#gc" stroke="#0f0"/><use href="#rc" stroke="#f00"/></g>
<g id="lc"><use href="#bk" stroke="#000"/><use href="#g2" stroke="#0f0"/><use href="#rc" stroke="#f00"/><use href="#gc" stroke="#0f0"/></g>
<path id="rd" d="M0 -39.8h0M-2.7 -39.8h0M-5.3 -39.8h0M-8 -39.7h0M-10.6 -39.7h0M-13.3 -39.7h0M-16 -39.6h0M-18.6 -39.5h0M-21.3 -39.4h0M-23.9 -39.3h0M-26.6 -39.2h0M-29.3 -39.1h0M-31.9 -38.9h0M-34.6 -38.8h0M-37.2 -38.6h0M-39.9 -38.4h0M-42.6 -38.3h0M-45.2 -38h0M-47.9 -37.8h0M-50.5 -37.6h0M-53.2 -37.3h0M-55.9 -37.1h0M-58.5 -36.8h0M-61.2 -36.5h0M-63.8 -36.2h0M-66.5 -35.9h0M-69.2 -35.6h0M-71.8 -35.2h0M-74.5 -34.9h0M-77.1 -34.5h0M-79.8 -34.1h0M-82.5 -33.7h0M-85.1 -33.3h0M-87.8 -32.9h0M-90.4 -32.4h0M-93.1 -31.9h0M-95.8 -31.5h0M-98.4 -31h0M-101.1 -30.5h0M-103.7 -29.9h0M-106.4 -29.4h0M-109.1 -28.9h0M-111.7 -28.3h0M-114.4 -27.8h0M-117 -27.2h0M-119.7 -26.6h0M-122.4 -26.2h0M-125 -25.9h0M-127.7 -25.8h0M-130.3 -26h0M-133 -26.5h0M-135.7 -27.4h0M-138.3 -28.8h0M-141 -30.7h0M-143.6 -33.2h0M-146.3 -36.4h0M-149 -40.4h0M-151.6 -45.2h0M-154.3 -50.9h0M-156.9 -57.7h0M-159.6 -65.5h0M-162.3 -74.6h0M-164.9 -84.8h0M-167.6 -96.5h0M-170.2 -109.5h0M-172.9 -124.1h0M-175.6 -140.2h0M-178.2 -158.1h0M-180.9 -177.7h0M-183.5 -199.1h0"/>
<path id="gd" d="M0 -12.1h0M-2.7 -12.1h0M-5.3 -12.1h0M-8 -12.1h0M-10.6 -12.1h0M-13.3 -12.1h0M-16 -12.1h0M-18.6 -12h0M-21.3 -12h0M-23.9 -12h0M-26.6 -11.9h0M-29.3 -11.8h0M-31.9 -11.8h0M-34.6 -11.7h0M-37.2 -11.6h0M-39.9 -11.4h0M-42.6 -11.3h0M-45.2 -11.1h0M-47.9 -11h0M-50.5 -10.8h0M-53.2 -10.5h0M-55.9 -10.3h0M-58.5 -10h0M-61.2 -9.7h0M-63.8 -9.4h0M-66.5 -9.1h0M-69.2 -8.7h0M-71.8 -8.3h0M-74.5 -7.9h0M-77.1 -7.5h0M-79.8 -7h0M-82.5 -6.5h0M-85.1 -5.9h0M-87.8 -5.3h0M-90.4 -4.7h0M-93.1 -4.1h0M-95.8 -3.4h0M-98.4 -2.6h0M-101.1 -1.8h0M-103.7 -1h0M-106.4 0h0M-109.1 -1.1h0M-111.7 -2.3h0M-114.4 -3.6h0M-117 -5.1h0M-119.7 -6.7h0M-122.4 -8.5h0M-125 -10.5h0M-127.7 -12.7h0M-130.3 -15.1h0M-133 -17.8h0M-135.7 -20.7h0M-138.3 -23.8h0M-141 -27.3h0M-143.6 -31.1h0M-146.3 -35.6h0M-149 -40.6h0M-151.6 -46.2h0M-154.3 -52.3h0M-156.9 -59.1h0M-159.6 -66.9h0M-162.3 -75.8h0M-164.9 -86h0M-167.6 -97.7h0M-170.2 -110.8h0M-172.9 -125.5h0M-175.6 -141.7h0M-178.2 -159.5h0M-180.9 -179h0M-183.5 -200.3h0"/>
<g id="ud"><use href="#bk" stroke="#000"/><use href="#g2" stroke="#0f0"/><use href="#gd" stroke="#0f0"/><use href="#rd" stroke="#f00"/></g>
<g id="ld"><use href="#bk" stroke="#000"/><use href="#g2" stroke="#0f0"/><use href="#rd" stroke="#f00"/><use href="#gd" stroke="#0f0"/></g>
</defs>
<rect width="1267" height="975" fill="#fff"/>
<rect x="66.6" y="9.6" width="531.8" height="415.4" fill="none" stroke="#707070" stroke-width="1.4"/>
<path d="M66.6 39.5h5.2M598.4 39.5h-5.2M66.6 98.5h5.2M598.4 98.5h-5.2M66.6 157.5h5.2M598.4 157.5h-5.2M66.6 217.5h5.2M598.4 217.5h-5.2M66.6 276.5h5.2M598.4 276.5h-5.2M66.6 335.5h5.2M598.4 335.5h-5.2M66.6 395.5h5.2M598.4 395.5h-5.2" stroke="#5e5e5e" stroke-width="1" fill="none"/>
<g transform="translate(332.30 217.40)" fill="none" stroke-width="3.40" stroke-linecap="round">
<use href="#la" transform="scale(0.9992 -0.9975)"/>
<use href="#la" transform="scale(-0.9992 -0.9975)"/>
<use href="#ua" transform="scale(0.9992 0.9975)"/>
<use href="#ua" transform="scale(-0.9992 0.9975)"/>
</g>
<path d="M66.0 217.4H598.4M332.3 10.6V425.0" stroke="#000" stroke-width="1.75" stroke-dasharray="1.5 1.78" fill="none"/>
<rect x="715.8" y="9.7" width="532.6" height="416.3" fill="none" stroke="#707070" stroke-width="1.4"/>
<path d="M715.8 39.5h5.2M1248.4 39.5h-5.2M715.8 98.5h5.2M1248.4 98.5h-5.2M715.8 158.5h5.2M1248.4 158.5h-5.2M715.8 217.5h5.2M1248.4 217.5h-5.2M715.8 277.5h5.2M1248.4 277.5h-5.2M715.8 336.5h5.2M1248.4 336.5h-5.2M715.8 396.5h5.2M1248.4 396.5h-5.2" stroke="#5e5e5e" stroke-width="1" fill="none"/>
<g transform="translate(981.90 217.90)" fill="none" stroke-width="3.40" stroke-linecap="round">
<use href="#lb" transform="scale(1.0008 -1.0000)"/>
<use href="#lb" transform="scale(-1.0008 -1.0000)"/>
<use href="#ub" transform="scale(1.0008 1.0000)"/>
<use href="#ub" transform="scale(-1.0008 1.0000)"/>
</g>
<path d="M715.2 217.9H1248.4M981.9 10.7V426.0" stroke="#000" stroke-width="1.75" stroke-dasharray="1.5 1.78" fill="none"/>
<rect x="64.6" y="495.0" width="533.8" height="417.2" fill="none" stroke="#707070" stroke-width="1.4"/>
<path d="M64.6 524.5h5.2M598.4 524.5h-5.2M64.6 584.5h5.2M598.4 584.5h-5.2M64.6 643.5h5.2M598.4 643.5h-5.2M64.6 703.5h5.2M598.4 703.5h-5.2M64.6 763.5h5.2M598.4 763.5h-5.2M64.6 823.5h5.2M598.4 823.5h-5.2M64.6 882.5h5.2M598.4 882.5h-5.2" stroke="#5e5e5e" stroke-width="1" fill="none"/>
<g transform="translate(331.30 703.80)" fill="none" stroke-width="3.40" stroke-linecap="round">
<use href="#lc" transform="scale(1.0034 -1.0042)"/>
<use href="#lc" transform="scale(-1.0034 -1.0042)"/>
<use href="#uc" transform="scale(1.0034 1.0042)"/>
<use href="#uc" transform="scale(-1.0034 1.0042)"/>
</g>
<path d="M64.0 703.8H598.4M331.3 496.0V912.2" stroke="#000" stroke-width="1.75" stroke-dasharray="1.5 1.78" fill="none"/>
<rect x="712.3" y="493.8" width="535.5" height="419.0" fill="none" stroke="#707070" stroke-width="1.4"/>
<path d="M712.3 523.5h5.2M1247.8 523.5h-5.2M712.3 583.5h5.2M1247.8 583.5h-5.2M712.3 643.5h5.2M1247.8 643.5h-5.2M712.3 703.5h5.2M1247.8 703.5h-5.2M712.3 763.5h5.2M1247.8 763.5h-5.2M712.3 823.5h5.2M1247.8 823.5h-5.2M712.3 882.5h5.2M1247.8 882.5h-5.2" stroke="#5e5e5e" stroke-width="1" fill="none"/>
<g transform="translate(979.50 703.40)" fill="none" stroke-width="3.40" stroke-linecap="round">
<use href="#ld" transform="scale(1.0066 -1.0067)"/>
<use href="#ld" transform="scale(-1.0066 -1.0067)"/>
<use href="#ud" transform="scale(1.0066 1.0067)"/>
<use href="#ud" transform="scale(-1.0066 1.0067)"/>
</g>
<path d="M711.8 703.4H1247.8M979.5 494.8V912.8" stroke="#000" stroke-width="1.75" stroke-dasharray="1.5 1.78" fill="none"/>
<g font-family="'Liberation Sans', sans-serif" font-size="100" fill="#000"><text transform="translate(80.10 43.19) scale(0.3673 0.3479)">(a)</text><text transform="translate(41.83 110.70) scale(0.2957 0.3696)">1</text><text transform="translate(30.71 228.70) scale(0.2910 0.3638)">E</text><text transform="translate(29.43 347.30) scale(0.3162 0.3522)">-1</text><text transform="translate(33.03 459.85) scale(0.3415 0.3521)">-0.5</text><text transform="translate(299.95 467.06) scale(0.3357 0.3378)">kz/π</text><text transform="translate(565.20 459.85) scale(0.3252 0.3521)">0.5</text><text transform="translate(728.01 45.09) scale(0.3655 0.3479)">(b)</text><text transform="translate(689.95 110.90) scale(0.2864 0.3580)">1</text><text transform="translate(680.69 230.50) scale(0.2945 0.3681)">E</text><text transform="translate(677.21 350.50) scale(0.3225 0.3580)">-1</text><text transform="translate(682.33 461.25) scale(0.3427 0.3535)">-0.5</text><text transform="translate(948.48 467.16) scale(0.3314 0.3419)">kz/π</text><text transform="translate(1218.78 462.14) scale(0.3298 0.3577)">0.5</text><text transform="translate(77.13 530.15) scale(0.3710 0.3500)">(c)</text><text transform="translate(38.50 597.30) scale(0.2899 0.3623)">1</text><text transform="translate(29.05 715.20) scale(0.2829 0.3536)">E</text><text transform="translate(24.49 835.20) scale(0.3275 0.3536)">-1</text><text transform="translate(29.83 949.44) scale(0.3433 0.3606)">-0.5</text><text transform="translate(299.56 953.88) scale(0.3346 0.3216)">kz/π</text><text transform="translate(566.99 949.63) scale(0.3282 0.3662)">0.5</text><text transform="translate(725.00 529.22) scale(0.3664 0.3468)">(d)</text><text transform="translate(688.05 595.80) scale(0.2899 0.3623)">1</text><text transform="translate(675.35 714.60) scale(0.2829 0.3536)">E</text><text transform="translate(673.58 836.10) scale(0.3313 0.3565)">-1</text><text transform="translate(677.24 949.44) scale(0.3402 0.3606)">-0.5</text><text transform="translate(948.72 954.48) scale(0.3254 0.3189)">kz/π</text><text transform="translate(1217.71 948.67) scale(0.3221 0.3324)">0.5</text></g><rect x="0" y="973.4" width="1267" height="1.6" fill="#e9e9e9"/><rect x="665" y="706.3" width="1.2" height="1.2" fill="#333"/>
</svg>
</body></html>
